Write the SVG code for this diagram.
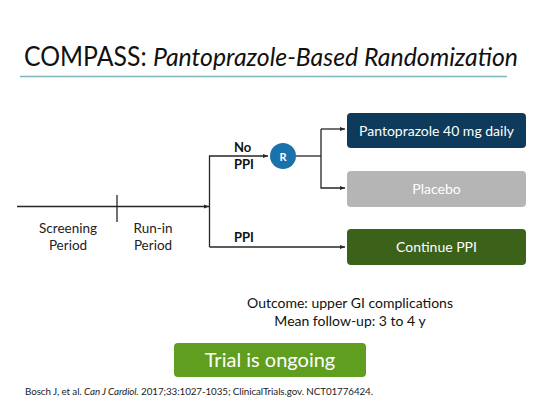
<svg xmlns="http://www.w3.org/2000/svg" width="540" height="405" viewBox="0 0 540 405">
<defs>
<style>
text{font-family:Lato,"Open Sans","Liberation Sans",sans-serif}
.ln{stroke:#262626;stroke-width:1.3;fill:none}
.bx{font-size:14px;fill:#fff;text-anchor:middle}
.lb{font-size:13px;font-weight:bold;fill:#111}
.tl{font-size:13.5px;fill:#222;text-anchor:middle}
</style>
<marker id="ah" viewBox="0 0 10 10" refX="10" refY="5" markerWidth="5" markerHeight="5" orient="auto" markerUnits="userSpaceOnUse">
<path d="M0,1 L10,5 L0,9 z" fill="#262626"/>
</marker>
</defs>
<rect width="540" height="405" fill="#fff"/>
<g id="title">
<text x="24" y="66" font-size="26" fill="#111" textLength="494" lengthAdjust="spacingAndGlyphs">COMPASS: <tspan font-style="italic">Pantoprazole-Based Randomization</tspan></text>
<line x1="20" y1="76.5" x2="507" y2="76.5" stroke="#7fb5bd" stroke-width="1.3"/>
</g>
<g id="connectors">
<line class="ln" x1="17" y1="206.5" x2="209" y2="206.5" marker-end="url(#ah)"/>
<line class="ln" x1="117" y1="195" x2="117" y2="222"/>
<polyline class="ln" points="209.5,247 209.5,156 268,156" marker-end="url(#ah)"/>
<line class="ln" x1="209.5" y1="247" x2="345" y2="247" marker-end="url(#ah)"/>
<line class="ln" x1="296" y1="156" x2="321" y2="156"/>
<polyline class="ln" points="321,129 321,188 345,188" marker-end="url(#ah)"/>
<line class="ln" x1="321" y1="129" x2="345" y2="129" marker-end="url(#ah)"/>
</g>
<g id="timeline-labels">
<text class="tl" x="68" y="233">Screening</text>
<text class="tl" x="68" y="250">Period</text>
<text class="tl" x="153" y="233">Run-in</text>
<text class="tl" x="153" y="250">Period</text>
</g>
<g id="branch-labels">
<text class="lb" x="234" y="152">No</text>
<text class="lb" x="234" y="169">PPI</text>
<text class="lb" x="234" y="242">PPI</text>
</g>
<g id="R">
<circle cx="283" cy="156" r="13" fill="#1b72ab"/>
<text x="283" y="160.5" font-size="11" font-weight="bold" fill="#fff" text-anchor="middle">R</text>
</g>
<g id="pantoprazole">
<rect x="347" y="113" width="179" height="35" rx="4" fill="#0e3b5b"/>
<text class="bx" x="436.5" y="135.5">Pantoprazole 40 mg daily</text>
</g>
<g id="placebo">
<rect x="347" y="171" width="179" height="36" rx="4" fill="#b5b5b5"/>
<text class="bx" x="436.5" y="194" fill="#f4f4f4">Placebo</text>
</g>
<g id="continue-ppi">
<rect x="347" y="229" width="179" height="36" rx="4" fill="#3c6119"/>
<text class="bx" x="436.5" y="252">Continue PPI</text>
</g>
<g id="outcome">
<text x="350" y="308" font-size="14" fill="#111" text-anchor="middle">Outcome: upper GI complications</text>
<text x="350" y="326" font-size="14" fill="#111" text-anchor="middle">Mean follow-up: 3 to 4 y</text>
</g>
<g id="trial">
<rect x="174" y="343" width="192" height="34" rx="4" fill="#5f9e1e"/>
<text x="270" y="367" font-size="20" fill="#fff" text-anchor="middle">Trial is ongoing</text>
</g>
<g id="citation">
<text x="25" y="395" font-size="9.8" fill="#222" textLength="348" lengthAdjust="spacing">Bosch J, et al. <tspan font-style="italic">Can J Cardiol.</tspan> 2017;33:1027-1035; ClinicalTrials.gov. NCT01776424.</text>
</g>
</svg>
